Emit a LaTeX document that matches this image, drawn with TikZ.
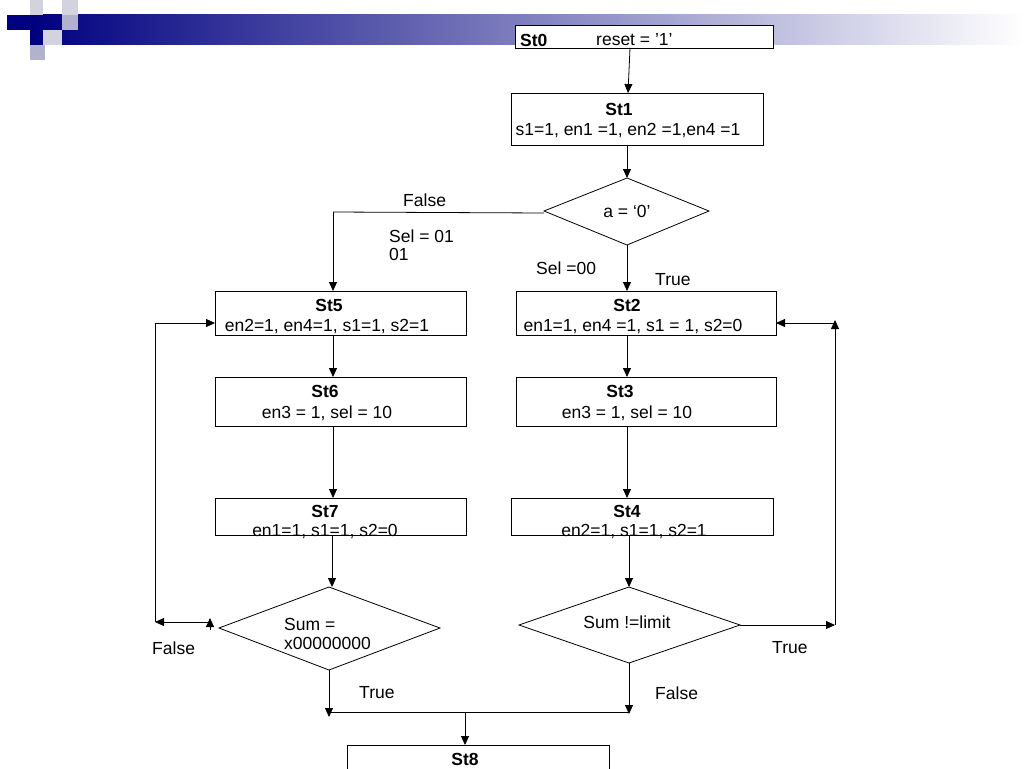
\documentclass[tikz,border=0pt]{standalone}
\usepackage{fontspec}
\setmainfont{Liberation Sans}
\usetikzlibrary{arrows.meta}
\begin{document}
\begin{tikzpicture}[x=1pt,y=-1pt,
  box/.style={draw,line width=0.8pt,fill=white},
  lbl/.style={font=\fontsize{17.5}{20}\selectfont,inner sep=0pt,anchor=west},
  bl/.style={font=\fontsize{17.5}{20}\selectfont\bfseries,inner sep=0pt,anchor=center},
  conn/.style={line width=0.8pt,-{Triangle[length=9pt,width=8pt]}},
  ln/.style={line width=0.8pt}]
\useasboundingbox (0,0) rectangle (1024,768);
% decoration
\shade[left color=blue!50!black, right color=white] (30,15) rectangle (1024,45);
\fill[blue!50!black] (7,15) rectangle (30,30);
\fill[blue!15!gray!30] (30,0) rectangle (43,15);
\fill[blue!15!gray!30] (43,30) rectangle (62,45);
\fill[blue!20!gray!50] (62,15) rectangle (78,30);
\fill[blue!15!gray!30] (62,0) rectangle (78,15);
\fill[blue!20!gray!50] (30,45) rectangle (45,60);
% boxes
\draw[box] (515,25) rectangle (773,48);
\node[bl,anchor=west] (st0a) at (520,40) {St0};
\node[lbl] (st0b) at (596,40) {reset = '1'};
\node[box,minimum width=252,minimum height=52,inner sep=0pt] (st1) at (637,119) {};
\node[bl] at (619,109) {St1};
\node[lbl,anchor=center] at (628,131) {s1=1, en1 =1, en2 =1,en4 =1};
\coordinate (st0b0) at (630,48);
\draw[conn] (st0b0) -- (628,93);
% diamond a
\draw[ln,fill=white] (544,211) -- (627,178) -- (709,211) -- (627,245) -- cycle;
\node[lbl,anchor=center] (da) at (627,211) {a = ‘0’};
\coordinate (st1b) at (627,145);
\draw[conn] (st1b) -- (627,178);
% left column
\draw[box] (215,291) rectangle (466,335);
\node[bl] (st5) at (329,305) {St5};
\node[lbl,anchor=center] at (327,327) {en2=1, en4=1, s1=1, s2=1};
\draw[box] (215,377) rectangle (466,426);
\node[bl] (st6) at (325,391) {St6};
\node[lbl,anchor=center] at (327,413) {en3 = 1, sel = 10};
\draw[box] (215,498) rectangle (466,535);
\node[bl] (st7) at (325,511) {St7};
\node[lbl,anchor=center] at (325,532) {en1=1, s1=1, s2=0};
\draw[ln,fill=white] (219,628) -- (329,587) -- (440,628) -- (329,670) -- cycle;
\node[lbl] (dl) at (284,624) {Sum =};
\node[lbl] at (284,643) {x00000000};
% right column
\draw[box] (516,291) rectangle (776,335);
\node[bl] (st2) at (627,305) {St2};
\node[lbl,anchor=center] at (633,327) {en1=1, en4 =1, s1 = 1, s2=0};
\draw[box] (516,377) rectangle (776,426);
\node[bl] (st3) at (620,391) {St3};
\node[lbl,anchor=center] at (627,413) {en3 = 1, sel = 10};
\draw[box] (511,498) rectangle (773,535);
\node[bl] (st4) at (627,511) {St4};
\node[lbl,anchor=center] at (634,532) {en2=1, s1=1, s2=1};
\draw[ln,fill=white] (519,625) -- (629,587) -- (740,625) -- (629,663) -- cycle;
\node[lbl,anchor=center] (dr) at (627,622) {Sum !=limit};
% St8
\draw[box] (347,745) rectangle (609,780);
\node[bl] (st8) at (465,759) {St8};
% connectors
\draw[ln] (544,213) -- (333,212);
\draw[conn] (333,212) -- (333,291);
\draw[conn] (627,245) -- (627,291);
\draw[conn] (333,335) -- (333,377);
\draw[conn] (333,426) -- (333,498);
\draw[conn] (332,535) -- (332,587);
\draw[conn] (627,335) -- (627,377);
\draw[conn] (627,426) -- (627,498);
\draw[conn] (629,535) -- (629,587);
% loops
\draw[conn] (209,622) -- (155,622);
\draw[conn] (210,630) -- (210,618);
\draw[ln] (155,622) -- (155,323);
\draw[conn] (155,323) -- (215,323);
\draw[conn] (740,625) -- (835,625);
\draw[conn] (835,625) -- (835,320);
\draw[conn] (835,323) -- (776,323);
% bottom merge
\draw[conn] (329,670) -- (329,717);
\draw[conn] (629,663) -- (629,714);
\draw[ln] (329,712) -- (629,712);
\draw[conn] (465,712) -- (465,745);
% labels
\node[lbl] at (403,200) {False};
\node[lbl] at (389,236) {Sel = 01};
\node[lbl] at (389,254) {01};
\node[lbl] at (536,268) {Sel =00};
\node[lbl] at (655,280) {True};
\node[lbl] at (152,648) {False};
\node[lbl] at (359,693) {True};
\node[lbl] at (655,693) {False};
\node[lbl] at (772,648) {True};
\end{tikzpicture}
\end{document}
